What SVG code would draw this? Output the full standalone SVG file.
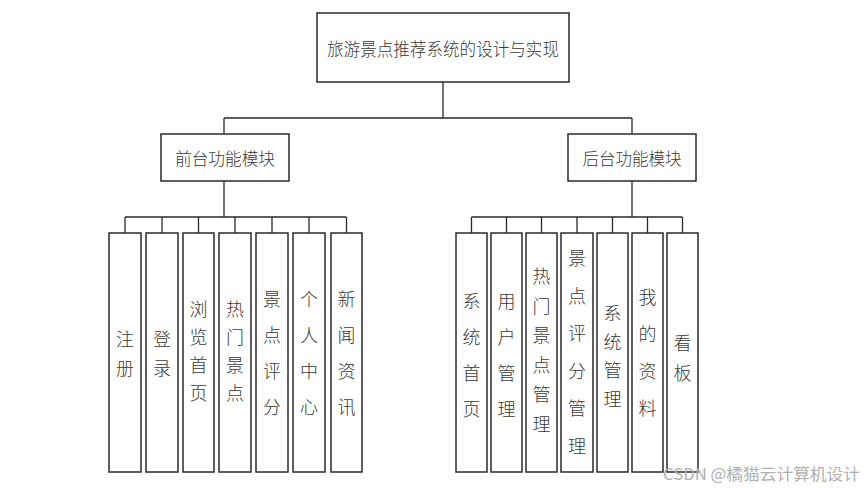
<svg xmlns="http://www.w3.org/2000/svg" width="865" height="488" viewBox="0 0 865 488">
<style>
.bx{fill:#fff;stroke:#2a2a2a;stroke-width:1.5}
.ln{fill:none;stroke:#2a2a2a;stroke-width:1.3}
.t{font-family:"Noto Sans CJK SC","Noto Sans CJK JP",sans-serif;fill:#3a3a3a;text-anchor:middle;dominant-baseline:central;font-weight:300}
.h{font-size:18px}
.m{font-size:17px}
.v{font-size:18px}
.wm{font-family:"Noto Sans CJK SC","Liberation Sans",sans-serif;font-size:16px;fill:#b0b0b0;dominant-baseline:central}
</style>
<rect width="865" height="488" fill="#fff"/>
<g id="connectors">
<path class="ln" d="M443 82V118M224 118H632M224 118V134M632 118V134"/>
<path class="ln" d="M224 181V217M125 217H346.5M125 217V233M162 217V233M198.5 217V233M235 217V233M272 217V233M309 217V233M346.5 217V233"/>
<path class="ln" d="M632 181V217M471.5 217H682.5M471.5 217V233M506.5 217V233M541.5 217V233M577 217V233M612.5 217V233M647.5 217V233M682.5 217V233"/>
</g>
<g id="root"><rect class="bx" x="317" y="13" width="252" height="69"/><text class="t h" x="443" y="48" textLength="232" lengthAdjust="spacingAndGlyphs">旅游景点推荐系统的设计与实现</text></g>
<g id="front"><rect class="bx" x="161" y="134" width="128" height="47"/><text class="t m" x="225" y="157" textLength="100" lengthAdjust="spacingAndGlyphs">前台功能模块</text></g>
<g id="back"><rect class="bx" x="568" y="134" width="128" height="47"/><text class="t m" x="632" y="157" textLength="99" lengthAdjust="spacingAndGlyphs">后台功能模块</text></g>
<g id="f1"><rect class="bx" x="109" y="233" width="32" height="239"/><text class="t v"><tspan x="125" y="338">注</tspan><tspan x="125" y="367">册</tspan></text></g>
<g id="f2"><rect class="bx" x="146" y="233" width="32" height="239"/><text class="t v"><tspan x="162" y="338">登</tspan><tspan x="162" y="367">录</tspan></text></g>
<g id="f3"><rect class="bx" x="183" y="233" width="31" height="239"/><text class="t v"><tspan x="198.5" y="308">浏</tspan><tspan x="198.5" y="336">览</tspan><tspan x="198.5" y="364">首</tspan><tspan x="198.5" y="392">页</tspan></text></g>
<g id="f4"><rect class="bx" x="219" y="233" width="32" height="239"/><text class="t v"><tspan x="235" y="308">热</tspan><tspan x="235" y="336">门</tspan><tspan x="235" y="364">景</tspan><tspan x="235" y="392">点</tspan></text></g>
<g id="f5"><rect class="bx" x="256" y="233" width="32" height="239"/><text class="t v"><tspan x="272" y="298">景</tspan><tspan x="272" y="334">点</tspan><tspan x="272" y="370">评</tspan><tspan x="272" y="406">分</tspan></text></g>
<g id="f6"><rect class="bx" x="293" y="233" width="32" height="239"/><text class="t v"><tspan x="309" y="298">个</tspan><tspan x="309" y="334">人</tspan><tspan x="309" y="370">中</tspan><tspan x="309" y="406">心</tspan></text></g>
<g id="f7"><rect class="bx" x="331" y="233" width="31" height="239"/><text class="t v"><tspan x="346.5" y="298">新</tspan><tspan x="346.5" y="334">闻</tspan><tspan x="346.5" y="370">资</tspan><tspan x="346.5" y="406">讯</tspan></text></g>
<g id="b1"><rect class="bx" x="456" y="233" width="31" height="239"/><text class="t v"><tspan x="471.5" y="300">系</tspan><tspan x="471.5" y="336">统</tspan><tspan x="471.5" y="372">首</tspan><tspan x="471.5" y="408">页</tspan></text></g>
<g id="b2"><rect class="bx" x="491" y="233" width="31" height="239"/><text class="t v"><tspan x="506.5" y="300">用</tspan><tspan x="506.5" y="336">户</tspan><tspan x="506.5" y="372">管</tspan><tspan x="506.5" y="408">理</tspan></text></g>
<g id="b3"><rect class="bx" x="526" y="233" width="31" height="239"/><text class="t v"><tspan x="541.5" y="275">热</tspan><tspan x="541.5" y="304.5">门</tspan><tspan x="541.5" y="334">景</tspan><tspan x="541.5" y="363.5">点</tspan><tspan x="541.5" y="393">管</tspan><tspan x="541.5" y="422.5">理</tspan></text></g>
<g id="b4"><rect class="bx" x="561" y="233" width="32" height="239"/><text class="t v"><tspan x="577" y="257">景</tspan><tspan x="577" y="294.5">点</tspan><tspan x="577" y="332">评</tspan><tspan x="577" y="369.5">分</tspan><tspan x="577" y="407">管</tspan><tspan x="577" y="444.5">理</tspan></text></g>
<g id="b5"><rect class="bx" x="597" y="233" width="31" height="239"/><text class="t v"><tspan x="612.5" y="312">系</tspan><tspan x="612.5" y="340.5">统</tspan><tspan x="612.5" y="369">管</tspan><tspan x="612.5" y="397.5">理</tspan></text></g>
<g id="b6"><rect class="bx" x="632" y="233" width="31" height="239"/><text class="t v"><tspan x="647.5" y="296">我</tspan><tspan x="647.5" y="333">的</tspan><tspan x="647.5" y="370">资</tspan><tspan x="647.5" y="407">料</tspan></text></g>
<g id="b7"><rect class="bx" x="667" y="233" width="31" height="239"/><text class="t v"><tspan x="682.5" y="342">看</tspan><tspan x="682.5" y="372">板</tspan></text></g>
<text class="wm" x="663" y="473" textLength="197" lengthAdjust="spacingAndGlyphs">CSDN @橘猫云计算机设计</text>
</svg>
